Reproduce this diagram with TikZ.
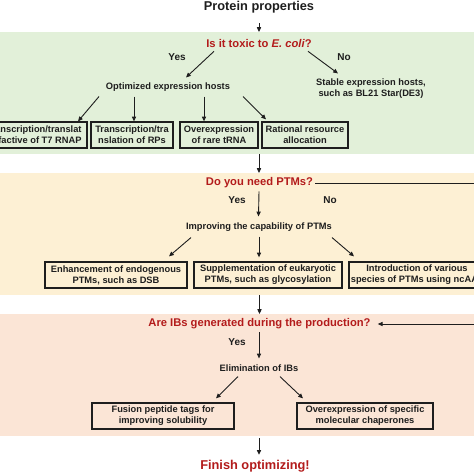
\documentclass[tikz,border=0pt]{standalone}
\usepackage{fontspec}
\setmainfont{Liberation Sans}
\usetikzlibrary{arrows.meta}
\definecolor{gbg}{HTML}{E2F0D9}
\definecolor{ybg}{HTML}{FDF0D4}
\definecolor{pbg}{HTML}{FBE5D6}
\definecolor{qred}{HTML}{B31B1B}
\definecolor{ink}{HTML}{1E1E1E}
\begin{document}
\begin{tikzpicture}[x=1pt,y=-1pt,
  arr/.style={-{Triangle[length=4.8pt,width=4.2pt]}, line width=0.9pt, draw=ink},
  lbl/.style={font=\fontsize{9.3}{11}\selectfont\bfseries, inner sep=0pt, align=center, text=ink},
  quest/.style={font=\fontsize{11.2}{13}\selectfont\bfseries, text=qred, inner sep=0pt},
  yn/.style={font=\fontsize{10}{12}\selectfont\bfseries, inner sep=0pt, text=ink},
  box/.style={draw=ink, line width=1.3pt, minimum height=26pt, inner sep=0pt, align=center,
    font=\fontsize{9.3}{11}\selectfont\bfseries, text=ink},
  band/.style={inner sep=0pt, anchor=north west, minimum width=474pt, draw=none}]
\useasboundingbox (0,0) rectangle (474,474);
\clip (0,0) rectangle (474,474);
\fill[white] (0,0) rectangle (474,474);
% bands
\node[band, fill=gbg, minimum height=122pt] (gband) at (0,32) {};
\node[band, fill=ybg, minimum height=122pt] (yband) at (0,173) {};
\node[band, fill=pbg, minimum height=122pt] (pband) at (0,314) {};
% title
\node[font=\fontsize{12.8}{15}\selectfont\bfseries, inner sep=0pt, text=ink] (title) at (259,7) {Protein properties};
% section 1
\node[quest] (q1) at (259,43) {Is it toxic to \textit{E. coli}?};
\node[yn] (yes1) at (177,57) {Yes};
\node[yn] (no1) at (344,57) {No};
\node[lbl] (hosts) at (168,87) {Optimized expression hosts};
\node[lbl] (stable) at (371,88.5) {Stable expression hosts,\\such as BL21 Star(DE3)};
\node[box, minimum width=106pt, align=right, fill=gbg] (b1) at (34,135) {Transcription/translat\\factive of T7 RNAP};
\node[box, minimum width=82pt, fill=gbg] (b2) at (132,135) {Transcription/tra\\nslation of RPs};
\node[box, minimum width=78pt, fill=gbg] (b3) at (219,135) {Overexpression\\of rare tRNA};
\node[box, minimum width=86pt, fill=gbg] (b4) at (305,135) {Rational resource\\allocation};
% section 2
\node[quest] (q2) at (259.5,183) {Do you need PTMs?};
\node[yn] (yes2) at (237,200) {Yes};
\node[yn] (no2) at (330,200) {No};
\node[lbl] (impr) at (259,227) {Improving the capability of PTMs};
\node[box, minimum width=142pt, fill=ybg] (bA) at (116,275) {Enhancement of endogenous\\PTMs, such as DSB};
\node[box, minimum width=148pt, fill=ybg] (bB) at (268,275) {Supplementation of eukaryotic\\PTMs, such as glycosylation};
\node[box, minimum width=136pt, fill=ybg] (bC) at (417,275) {Introduction of various\\species of PTMs using ncAAs};
% section 3
\node[quest] (q3) at (259.5,324) {Are IBs generated during the production?};
\node[yn] (yes3) at (237,342) {Yes};
\node[lbl] (elim) at (259,368) {Elimination of IBs};
\node[box, minimum width=142pt, fill=pbg] (bL) at (163,416) {Fusion peptide tags for\\improving solubility};
\node[box, minimum width=136pt, fill=pbg] (bR) at (365,416) {Overexpression of specific\\molecular chaperones};
\node[font=\fontsize{12.8}{15}\selectfont\bfseries, text=qred, inner sep=0pt] (fin) at (255,466) {Finish optimizing!};
\coordinate (rt) at (490,183.5);
% connectors
\draw[arr] ([yshift=-10pt]title.south) -- (title |- gband.north);
\draw[arr] ([xshift=-45pt,yshift=-4pt]q1.south) -- ([xshift=18pt,yshift=5pt]hosts.north);
\draw[arr] ([xshift=49pt,yshift=-4pt]q1.south) -- ([xshift=-33pt,yshift=5pt]stable.north);
\draw[arr] ([xshift=-69pt,yshift=-5pt]hosts.south) -- ([xshift=44pt]b1.north);
\draw[arr] ([xshift=-34pt,yshift=-5pt]hosts.south) -- ([xshift=2pt]b2.north);
\draw[arr] ([xshift=36pt,yshift=-5pt]hosts.south) -- ([xshift=-15pt]b3.north);
\draw[arr] ([xshift=75pt,yshift=-5pt]hosts.south) -- ([xshift=-39pt,yshift=2pt]b4.north);
\draw[arr] (q1 |- gband.south) -- (q1 |- yband.north);
\draw[line width=0.9pt, draw=ink] ([xshift=2pt,yshift=-0.5pt]q2.east) -- (rt);
\draw[arr] (rt) |- ([xshift=7pt]q3.east);
\draw[arr] ([xshift=-0.5pt,yshift=-3pt]q2.south) -- ([xshift=-0.5pt,yshift=6pt]impr.north);
\draw[arr] ([xshift=-68pt,yshift=-6pt]impr.south) -- ([xshift=53pt,yshift=5pt]bA.north);
\draw[arr] ([yshift=-5pt]impr.south) -- ([xshift=-9pt,yshift=4pt]bB.north);
\draw[arr] ([xshift=73pt,yshift=-6pt]impr.south) -- ([xshift=-63pt,yshift=5pt]bC.north);
\draw[arr] (q2 |- yband.south) -- (q2 |- pband.north);
\draw[arr] ([xshift=-0.5pt,yshift=-3pt]q3.south) -- ([xshift=0pt,yshift=6pt]elim.north);
\draw[arr] ([xshift=-21pt,yshift=-5pt]elim.south) -- ([xshift=53pt,yshift=4pt]bL.north);
\draw[arr] ([xshift=21pt,yshift=-5pt]elim.south) -- ([xshift=-62pt,yshift=4pt]bR.north);
\draw[arr] ([xshift=4pt,yshift=-2pt]fin.north |- pband.south) -- ([xshift=4pt,yshift=5pt]fin.north);
\end{tikzpicture}
\end{document}
